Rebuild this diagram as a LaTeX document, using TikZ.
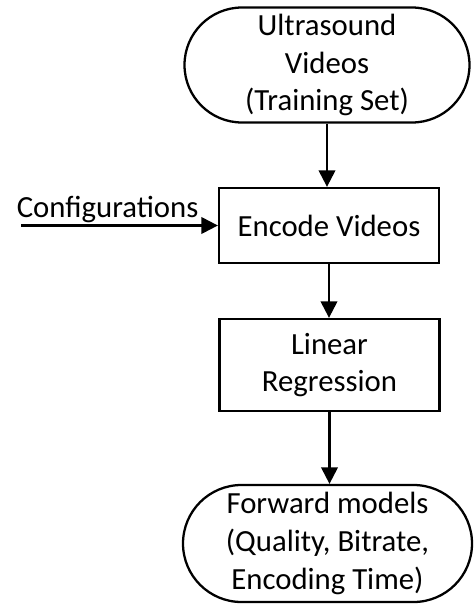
\documentclass[tikz,border=0pt]{standalone}
\usepackage{fontspec}
\setmainfont{Carlito}
\usepackage{tikz}
\usetikzlibrary{shapes.misc,arrows.meta,positioning}
\tikzstyle{termblock}=[rounded rectangle, draw, line width=1.3pt, align=center, minimum width=5.7cm, minimum height=2.3cm, inner sep=0pt]
\tikzstyle{procblock}=[rectangle, draw, line width=1.3pt, align=center, minimum width=4.4cm, inner sep=0pt]
\tikzstyle{flow}=[-{Triangle[length=3.3mm,width=3.3mm]}, line width=1.3pt]

\begin{document}
\begin{tikzpicture}[every node/.style = {font=\fontsize{17.5}{21.5}\selectfont}]
\useasboundingbox (0,0) rectangle (9.48,-12.18);

\node[termblock](p1) at (6.54,-1.30) {Ultrasound\\Videos\\(Training Set)};
\node[procblock, minimum height=1.5cm](p2) at (6.58,-4.51) {Encode Videos};
\node[procblock, minimum height=1.84cm](p3) at (6.59,-7.30) {Linear\\Regression};
\node[termblock, minimum width=5.78cm, minimum height=2.34cm](p4) at (6.55,-10.87) {Forward models\\(Quality, Bitrate,\\Encoding Time)};
\coordinate (cfg) at (0.42,-4.51);

\draw[flow](p1.south) -- (p1.south |- p2.north);
\draw[flow](cfg) -- node[above, pos=0.44, inner sep=1pt] {Configurations} (p2.west);
\draw[flow](p2.south) -- (p2.south |- p3.north);
\draw[flow](p3.south) -- (p3.south |- p4.north);

\end{tikzpicture}
\end{document}
